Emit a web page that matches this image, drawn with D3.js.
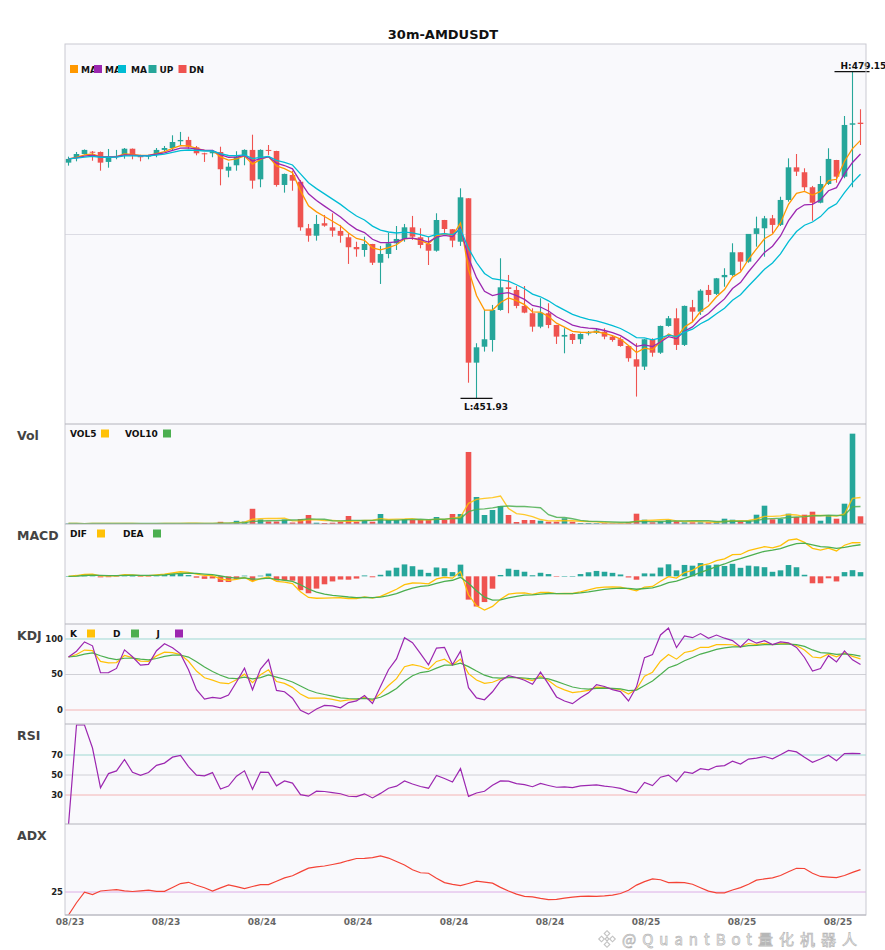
<!DOCTYPE html>
<html><head><meta charset="utf-8">
<script src="https://cdn.jsdelivr.net/npm/d3@7"></script>
<style>body{margin:0;background:#fff}svg{display:block}</style>
</head><body>
<svg id="c" width="885" height="950"></svg>
<script>
// ---------- data (30m candles, AMDUSDT) ----------
const openP = [471.57,471.98,472.29,472.48,472.46,471.63,472.04,472.18,472.73,472.13,
472.07,472.23,472.63,472.79,473.35,473.46,472.85,472.35,472.35,472.46,
470.90,471.35,472.13,472.63,470.18,472.63,472.54,469.71,470.54,469.98,
466.10,465.48,466.52,466.18,465.88,465.35,464.54,464.29,464.79,463.23,
463.96,464.85,465.21,466.18,465.35,464.79,464.23,466.79,466.02,464.98,
468.60,454.90,456.23,456.79,459.29,461.18,460.96,459.63,459.02,457.90,
459.02,458.04,457.07,457.29,456.85,457.33,457.40,457.48,457.07,456.85,
456.29,455.18,454.57,456.79,455.73,457.96,458.60,456.38,459.52,459.15,
460.96,460.63,462.02,462.21,464.10,463.32,465.63,466.10,466.93,466.38,
468.46,471.18,470.77,469.52,468.23,469.79,471.79,470.40,474.73,474.90];
const highP = [472.07,472.46,472.67,472.54,472.50,472.71,472.63,472.79,472.75,472.23,
472.23,472.79,472.96,473.85,474.13,473.73,472.96,472.40,472.63,472.90,
471.57,472.52,472.68,473.90,472.68,473.04,472.56,470.66,470.90,470.13,
466.46,467.21,467.21,467.35,466.38,465.68,464.98,465.40,464.80,464.63,
465.73,466.29,466.46,467.13,466.10,465.40,467.35,466.80,466.03,469.43,
468.61,456.52,459.29,459.71,463.60,462.21,461.29,461.29,459.43,460.27,
459.85,458.05,457.77,457.35,457.35,457.54,457.77,457.77,457.13,457.02,
456.30,456.52,456.88,456.93,457.99,458.79,459.43,459.66,460.13,461.02,
461.38,461.96,462.77,464.85,464.11,465.35,467.07,467.13,467.21,468.73,
471.93,472.29,471.10,469.63,470.46,472.77,471.80,475.46,479.15,476.02];
const lowP = [471.32,471.68,472.25,471.73,470.90,471.15,471.85,471.90,471.85,471.68,
471.85,472.02,472.46,472.63,472.96,472.73,472.18,471.63,472.02,469.68,
470.35,470.90,471.35,469.40,469.52,472.21,469.57,469.07,469.23,465.90,
464.98,465.07,466.23,465.40,464.90,463.13,463.73,463.73,463.04,461.46,
463.60,464.29,464.98,465.13,464.43,463.04,464.15,465.68,464.52,464.63,
453.23,451.93,455.82,455.82,459.23,459.02,459.43,459.02,457.48,457.77,
457.77,456.46,455.68,456.46,456.46,457.17,457.29,456.85,456.65,456.23,
454.98,452.07,454.29,455.40,455.63,457.90,455.96,456.29,458.32,458.88,
459.98,460.54,461.23,462.13,462.57,463.23,464.57,463.73,465.68,466.29,
468.32,470.46,469.23,466.73,468.18,469.71,469.90,470.27,469.52,473.04];
const closeP = [471.88,472.29,472.63,472.43,471.57,472.02,472.13,472.73,472.18,472.02,
472.18,472.63,472.79,473.29,473.46,472.90,472.35,472.29,472.52,471.02,
471.23,472.07,472.63,470.07,472.63,472.57,469.71,470.63,470.07,466.18,
465.48,466.46,466.32,465.90,465.48,464.52,464.35,464.79,463.23,463.96,
464.85,465.21,466.18,465.40,464.71,464.23,466.79,466.04,465.07,468.68,
454.90,456.18,456.85,459.29,461.18,461.04,459.63,459.07,457.90,459.07,
458.04,457.07,457.21,456.79,457.29,457.42,457.57,457.07,456.79,456.29,
455.27,454.57,456.85,455.73,457.96,458.60,456.38,459.63,459.15,460.90,
460.54,461.93,462.21,464.10,463.32,465.63,466.10,466.93,466.38,468.46,
471.18,470.82,469.52,468.23,469.79,471.88,470.40,474.71,474.85,474.79];
const volume = [50,40,30,100,100,60,30,40,50,30,
30,40,100,100,60,50,40,30,40,220,
60,320,250,1520,460,250,250,450,150,500,
900,130,100,130,230,800,230,400,230,1000,
400,400,470,400,400,400,700,400,1000,1000,
7200,2700,900,1400,1800,900,200,400,400,330,
230,230,570,230,100,100,80,80,60,80,
200,1030,430,170,270,400,270,170,170,170,
170,230,530,430,270,330,930,1830,470,500,
1030,700,930,1230,330,900,530,2030,9030,770];
const tickIdx = [0,12,24,36,48,60,72,84,96];
const tickLabels = ["08/23","08/23","08/24","08/24","08/24","08/24","08/25","08/25","08/25"];
const maPeriods = [5,8,13];
const volPeriods = [5,10];
const macdParams = [6,13,5];
const kdjLevels = [100,50,0];
const rsiLevels = [70,50,30];
const adxLevels = [25];

// ---------- derived studies (computed from the price/volume arrays) ----------
const N = closeP.length;
function ema(a,n){const k=2/(n+1);const o=[a[0]];for(let i=1;i<a.length;i++)o.push(o[i-1]+k*(a[i]-o[i-1]));return o;}
function sma(a,n){return a.map((v,i)=>d3.mean(a.slice(Math.max(0,i-n+1),i+1)));}
function wild(a,n){const o=[a[0]];for(let i=1;i<a.length;i++)o.push(o[i-1]+(a[i]-o[i-1])/n);return o;}
const maLines = maPeriods.map(p=>ema(closeP,p));
const volLines = volPeriods.map(p=>sma(volume,p));
const eF=ema(closeP,macdParams[0]), eS=ema(closeP,macdParams[1]);
const dif=eF.map((v,i)=>v-eS[i]); const dea=ema(dif,macdParams[2]); const hist=dif.map((v,i)=>2*(v-dea[i]));
const rsv=closeP.map((c,i)=>{const lo=d3.min(lowP.slice(Math.max(0,i-8),i+1)),hi=d3.max(highP.slice(Math.max(0,i-8),i+1));return hi>lo?(c-lo)/(hi-lo)*100:50;});
const K=[rsv[0]],D=[rsv[0]];for(let i=1;i<N;i++){K.push(2/3*K[i-1]+rsv[i]/3);D.push(2/3*D[i-1]+K[i]/3);}
const J=K.map((k,i)=>3*k-2*D[i]);
const gain=[0],loss=[0];for(let i=1;i<N;i++){const d=closeP[i]-closeP[i-1];gain.push(Math.max(d,0));loss.push(Math.max(-d,0));}
const ag=wild(gain,14),al=wild(loss,14);
const rsi=ag.map((g,i)=>(g+al[i])>0?100*g/(g+al[i]):0);
const tr=[highP[0]-lowP[0]],pdm=[0],ndm=[0];
for(let i=1;i<N;i++){tr.push(Math.max(highP[i]-lowP[i],Math.abs(highP[i]-closeP[i-1]),Math.abs(lowP[i]-closeP[i-1])));
 const up=highP[i]-highP[i-1],dn=lowP[i-1]-lowP[i];pdm.push(up>dn&&up>0?up:0);ndm.push(dn>up&&dn>0?dn:0);}
const sTR=ema(tr,14),sP=ema(pdm,14),sN=ema(ndm,14);
const dx=sTR.map((t,i)=>{const p=100*sP[i]/t,n=100*sN[i]/t;return (p+n)>0?100*Math.abs(p-n)/(p+n):0;});
const adx=ema(dx,14);

// ---------- layout ----------
const svg=d3.select("#c");
const L=65,R=866;
const P={main:[44,424],vol:[424,524],macd:[524,624],kdj:[624,724],rsi:[724,824],adx:[824,915]};
const UP="#26a69a",DN="#ef5350",FONT="DejaVu Sans, Verdana, sans-serif";
const x=d3.scaleBand().domain(d3.range(N)).range([64.5,864.5]).paddingInner(0.3).paddingOuter(0.15);
const cx=i=>x(i)+x.bandwidth()/2;
const isUp=i=>closeP[i]>=openP[i];

svg.append("text").attr("x",443).attr("y",39).attr("text-anchor","middle").attr("font-family",FONT)
  .attr("font-weight","bold").attr("font-size",13).attr("fill","#111").text("30m-AMDUSDT");

Object.entries(P).forEach(([k,[t,b]])=>{
  svg.append("rect").attr("x",L).attr("y",t).attr("width",R-L).attr("height",b-t).attr("fill","#f9f9fc");
  svg.append("clipPath").attr("id","cl-"+k).append("rect").attr("x",L).attr("y",t).attr("width",R-L).attr("height",b-t);
});
const g=k=>svg.append("g").attr("clip-path","url(#cl-"+k+")");

// ---- main price panel
const lo=d3.min(lowP),hi=d3.max(highP),span=hi-lo;
const y=d3.scaleLinear().domain([lo-0.0787*span,hi+0.0848*span]).range([P.main[1],P.main[0]]);
svg.append("line").attr("x1",L).attr("x2",R).attr("y1",234.5).attr("y2",234.5).attr("stroke","#dcdce4");
const gm=g("main");
const cs=gm.selectAll("g.c").data(d3.range(N)).join("g");
cs.append("line").attr("x1",cx).attr("x2",cx).attr("y1",i=>y(highP[i])).attr("y2",i=>y(lowP[i]))
  .attr("stroke",i=>isUp(i)?UP:DN).attr("stroke-width",1.1);
cs.append("rect").attr("x",i=>x(i)).attr("width",x.bandwidth())
  .attr("y",i=>y(Math.max(openP[i],closeP[i])))
  .attr("height",i=>Math.max(1,Math.abs(y(openP[i])-y(closeP[i]))))
  .attr("fill",i=>isUp(i)?UP:DN);
const maColors=["#ff9800","#9c27b0","#00bcd4"];
const line=(ys)=>d3.line().x((d,i)=>cx(i)).y(d=>ys(d));
maLines.forEach((m,j)=>gm.append("path").datum(m).attr("d",line(y)).attr("fill","none")
  .attr("stroke",maColors[j]).attr("stroke-width",1.3));
const iH=d3.maxIndex(highP),iL=d3.minIndex(lowP);
svg.append("line").attr("x1",cx(iH)-18).attr("x2",cx(iH)+17).attr("y1",y(hi)).attr("y2",y(hi)).attr("stroke","#111").attr("stroke-width",1.2);
svg.append("text").attr("x",cx(iH)-12).attr("y",y(hi)-3).attr("font-family",FONT).attr("font-weight","bold")
  .attr("font-size",9).attr("fill","#111").text("H:"+hi.toFixed(2));
svg.append("line").attr("x1",cx(iL)-16).attr("x2",cx(iL)+16).attr("y1",y(lo)).attr("y2",y(lo)).attr("stroke","#111").attr("stroke-width",1.2);
svg.append("text").attr("x",cx(iL)-12.5).attr("y",y(lo)+12).attr("font-family",FONT).attr("font-weight","bold")
  .attr("font-size",9).attr("fill","#111").text("L:"+lo.toFixed(2));

// ---- volume
const yv=d3.scaleLinear().domain([0,d3.max(volume)*1.107]).range([P.vol[1],P.vol[0]]);
const gv=g("vol");
gv.selectAll("rect").data(volume).join("rect").attr("x",(d,i)=>x(i)).attr("width",x.bandwidth())
  .attr("y",d=>yv(d)).attr("height",d=>P.vol[1]-yv(d)).attr("fill",(d,i)=>isUp(i)?UP:DN);
const c2=["#ffc107","#4caf50"];
volLines.forEach((m,j)=>gv.append("path").datum(m).attr("d",line(yv)).attr("fill","none")
  .attr("stroke",c2[j]).attr("stroke-width",1.4).attr("stroke-opacity",0.85));

// ---- MACD
const mExt=d3.extent([...dif,...dea,...hist]);
const ym=d3.scaleLinear().domain(mExt).range([610,539]);
const gmc=g("macd");
gmc.selectAll("rect").data(hist).join("rect").attr("x",(d,i)=>x(i)).attr("width",x.bandwidth())
  .attr("y",d=>Math.min(ym(d),ym(0))).attr("height",d=>Math.max(0.5,Math.abs(ym(d)-ym(0))))
  .attr("fill",d=>d>=0?UP:DN);
[dif,dea].forEach((m,j)=>gmc.append("path").datum(m).attr("d",line(ym)).attr("fill","none")
  .attr("stroke",c2[j]).attr("stroke-width",1.3));

// ---- KDJ
const yk=d3.scaleLinear().domain([-19.7,121.1]).range([P.kdj[1],P.kdj[0]]);
const levelCol={100:"#9fd8d2",70:"#9fd8d2",50:"#d0d0d6",30:"#f4b4b4",0:"#f4b4b4",25:"#dcaee6"};
kdjLevels.forEach(v=>svg.append("line").attr("x1",L).attr("x2",R).attr("y1",yk(v)).attr("y2",yk(v)).attr("stroke",levelCol[v]));
const gk=g("kdj");
[K,D,J].forEach((m,j)=>gk.append("path").datum(m).attr("d",line(yk)).attr("fill","none")
  .attr("stroke",["#ffc107","#4caf50","#9c27b0"][j]).attr("stroke-width",1.2));

// ---- RSI
const yr=d3.scaleLinear().domain([0,100]).range([825,725]);
rsiLevels.forEach(v=>svg.append("line").attr("x1",L).attr("x2",R).attr("y1",yr(v)).attr("y2",yr(v)).attr("stroke",levelCol[v]));
g("rsi").append("path").datum(rsi).attr("d",line(yr)).attr("fill","none").attr("stroke","#9c27b0").attr("stroke-width",1.2);

// ---- ADX
const ya=d3.scaleLinear().domain([0,60]).range([915,859.8]);
adxLevels.forEach(v=>svg.append("line").attr("x1",L).attr("x2",R).attr("y1",ya(v)).attr("y2",ya(v)).attr("stroke",levelCol[v]));
g("adx").append("path").datum(adx).attr("d",line(ya)).attr("fill","none").attr("stroke","#f44336").attr("stroke-width",1.2);

// ---- frame & separators
svg.append("rect").attr("x",L).attr("y",44).attr("width",R-L).attr("height",915-44).attr("fill","none").attr("stroke","#c9c9d2");
[424,524,624,724,824,915].forEach(v=>svg.append("line").attr("x1",L).attr("x2",R).attr("y1",v).attr("y2",v).attr("stroke","#b4b4bc"));

// ---- y tick labels
const tl=(txt,yy)=>svg.append("text").attr("x",63).attr("y",yy+3).attr("text-anchor","end").attr("font-family",FONT)
  .attr("font-weight","bold").attr("font-size",8.5).attr("fill","#222").text(txt);
kdjLevels.forEach(v=>tl(v,yk(v)));
rsiLevels.forEach(v=>tl(v,yr(v)));
adxLevels.forEach(v=>tl(v,ya(v)));

// ---- x tick labels
tickIdx.forEach((idx,k)=>svg.append("text").attr("x",cx(idx)+1.5).attr("y",924.5).attr("text-anchor","middle")
  .attr("font-family",FONT).attr("font-weight","bold").attr("font-size",9).attr("fill","#666").text(tickLabels[k]));

// ---- panel titles
[["Vol",439.5],["MACD",539.5],["KDJ",639.5],["RSI",739.5],["ADX",839.5]].forEach(([t,yy])=>
  svg.append("text").attr("x",17).attr("y",yy).attr("font-family",FONT).attr("font-weight","bold")
   .attr("font-size",12.5).attr("fill","#444").text(t));

// ---- legends
function legend(items,baseY){
  items.forEach(it=>{
    if(it.c) svg.append("rect").attr("x",it.x).attr("y",baseY-7.5).attr("width",8).attr("height",8).attr("fill",it.c);
    else svg.append("text").attr("x",it.x).attr("y",baseY).attr("font-family",FONT).attr("font-weight","bold")
      .attr("font-size",9).attr("fill","#111").text(it.t);
  });
}
legend([{x:70,c:"#ff9800"},{x:81,t:"MA"},{x:94,c:"#9c27b0"},{x:105,t:"MA"},{x:118,c:"#00bcd4"},{x:131,t:"MA"},
  {x:148.5,c:UP},{x:159.5,t:"UP"},{x:178.5,c:DN},{x:189,t:"DN"}],72.5);
legend([{x:70,t:"VOL5"},{x:101,c:"#ffc107"},{x:125,t:"VOL10"},{x:163,c:"#4caf50"}],437);
legend([{x:70,t:"DIF"},{x:97,c:"#ffc107"},{x:123,t:"DEA"},{x:153,c:"#4caf50"}],537);
legend([{x:70,t:"K"},{x:87,c:"#ffc107"},{x:113,t:"D"},{x:131,c:"#4caf50"},{x:156.5,t:"J"},{x:175,c:"#9c27b0"}],637);

// ---- watermark (overlaid on the source image), kept just below the date labels
const wm=svg.append("g").attr("opacity",0.7);
const lg=wm.append("g").attr("transform","translate(607,939)").attr("fill","none").attr("stroke","#aaa").attr("stroke-width",1.1);
[[0,-5.5],[0,5.5],[-5.5,0],[5.5,0]].forEach(([a,b])=>lg.append("path").attr("d",`M${a},${b-2.8}L${a+2.8},${b}L${a},${b+2.8}L${a-2.8},${b}Z`));
lg.append("path").attr("d","M0,-2L2,0L0,2L-2,0Z");
wm.append("text").attr("x",622).attr("y",945).attr("font-family","'Noto Sans CJK SC', 'DejaVu Sans', sans-serif")
  .attr("font-size",15).attr("fill","#fff").attr("fill-opacity",0.8).attr("stroke","#9a9a9a").attr("stroke-width",0.75)
  .attr("textLength",235).text("@QuantBot量化机器人");
</script>
</body></html>
